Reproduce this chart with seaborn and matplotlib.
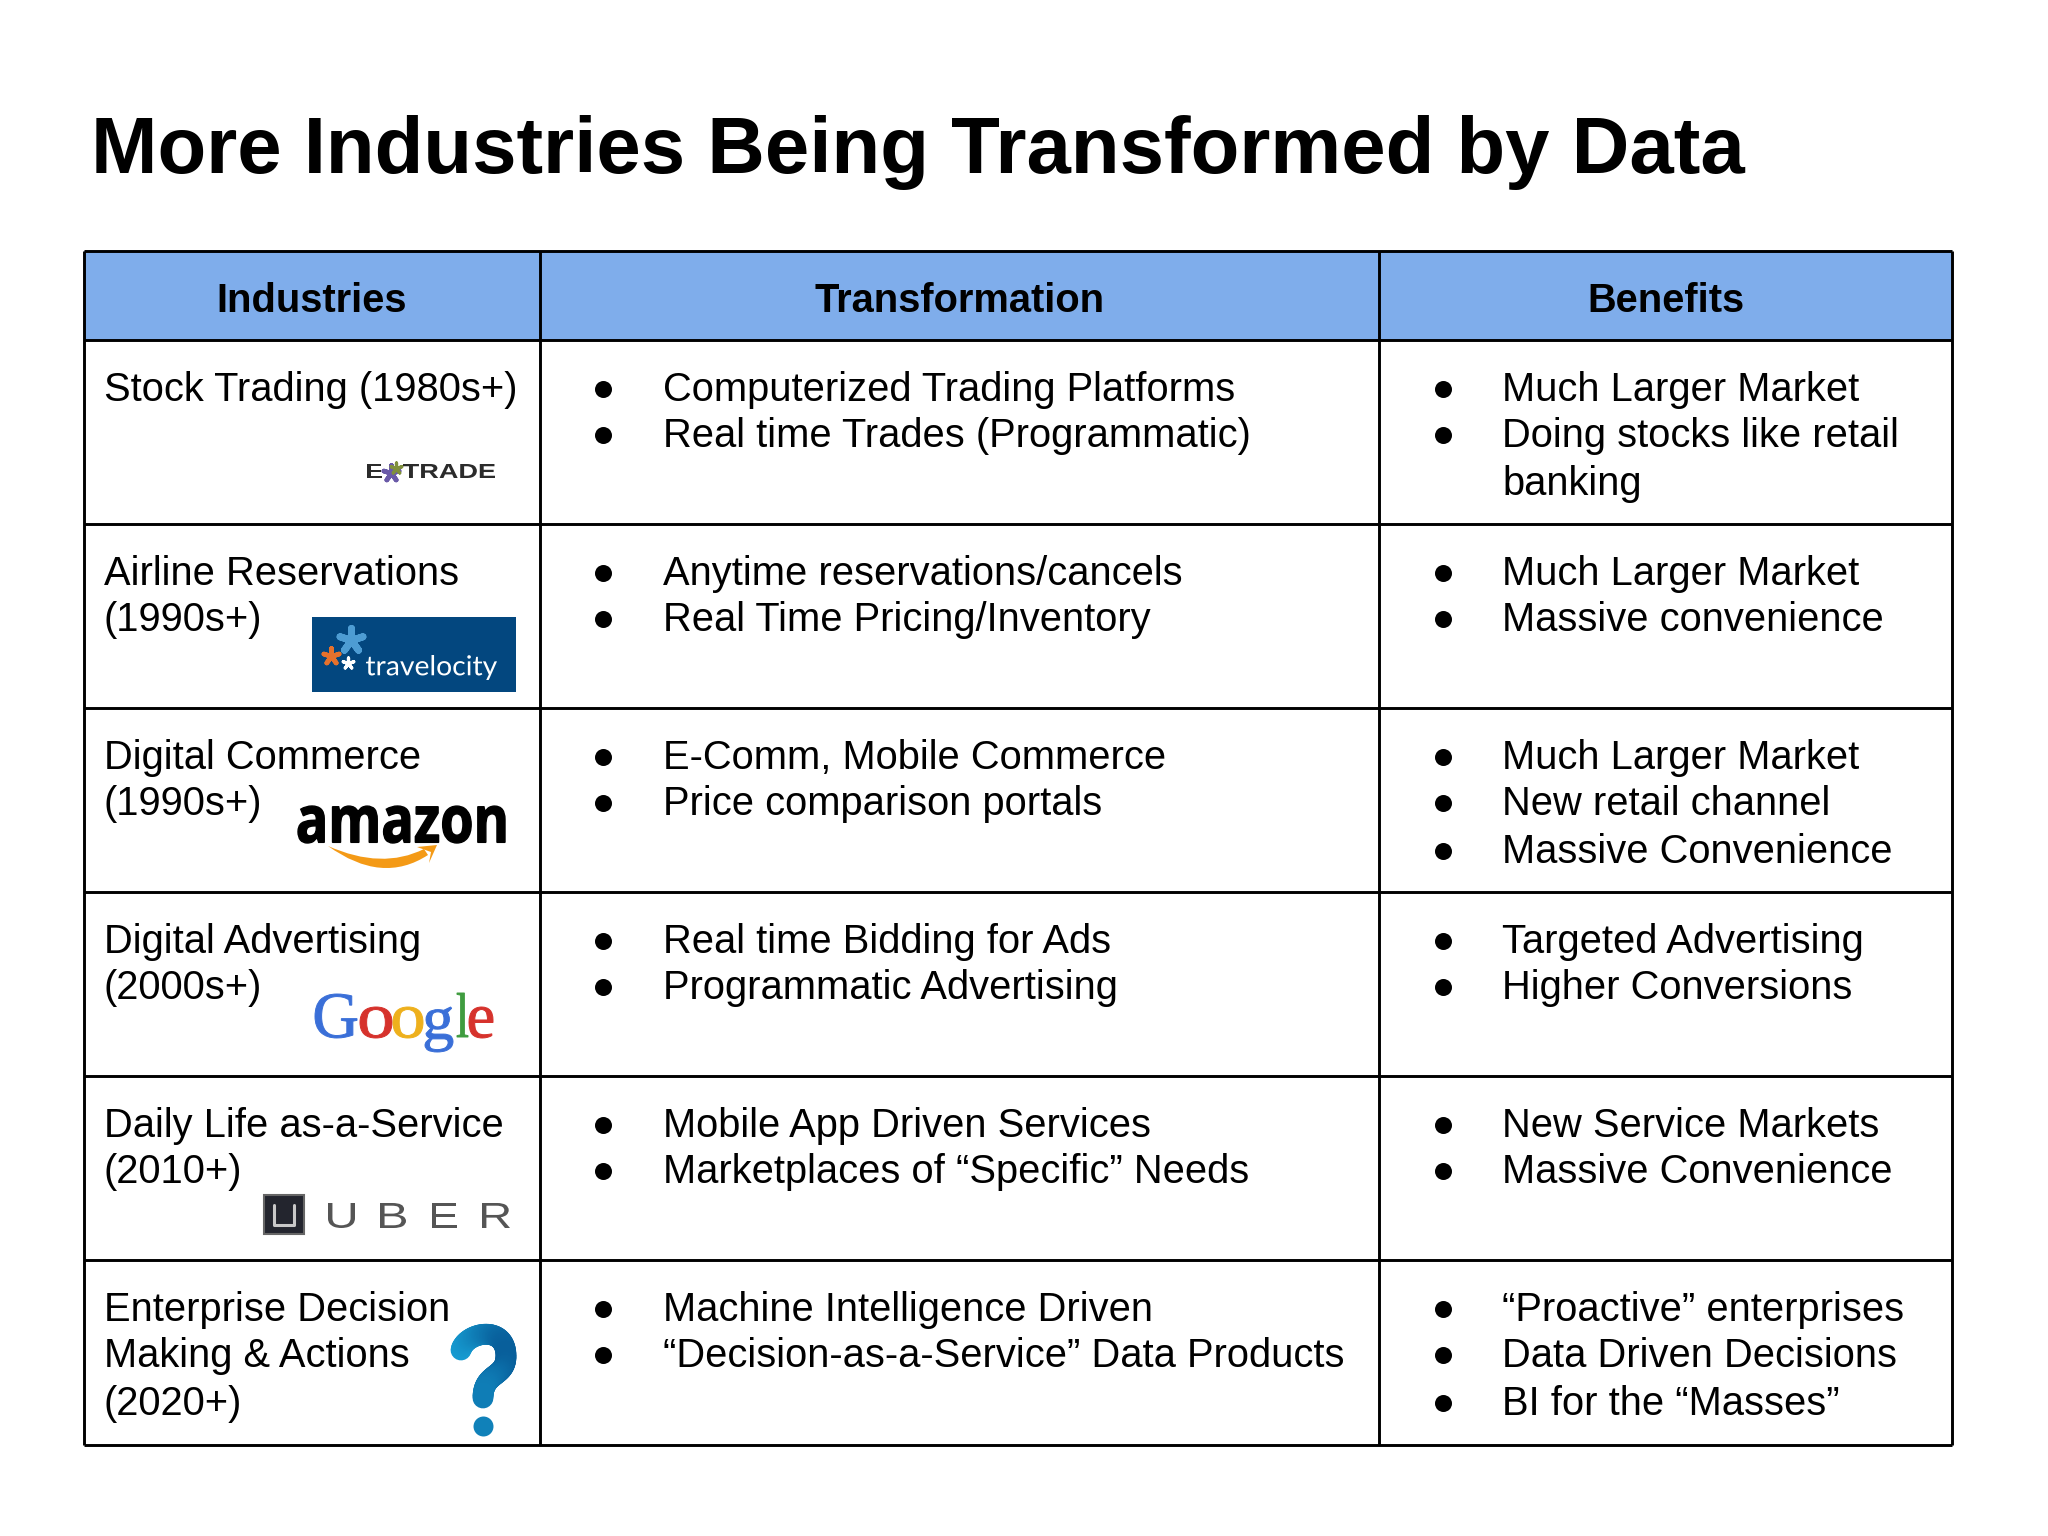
import numpy as np
import matplotlib
matplotlib.use('Agg')
import matplotlib.pyplot as plt
import seaborn as sns
from matplotlib.collections import LineCollection
from matplotlib.font_manager import FontProperties
from matplotlib.patches import PathPatch, Rectangle
from matplotlib.path import Path
from matplotlib.textpath import TextPath
from matplotlib.transforms import Affine2D

TITLE = 'More Industries Being Transformed by Data'
HEADERS = ['Industries', 'Transformation', 'Benefits']

INDUSTRIES = [
    ['Stock Trading (1980s+)'],
    ['Airline Reservations', '(1990s+)'],
    ['Digital Commerce', '(1990s+)'],
    ['Digital Advertising', '(2000s+)'],
    ['Daily Life as-a-Service', '(2010+)'],
    ['Enterprise Decision', 'Making & Actions', '(2020+)'],
]
TRANSFORMATIONS = [
    ['Computerized Trading Platforms', 'Real time Trades (Programmatic)'],
    ['Anytime reservations/cancels', 'Real Time Pricing/Inventory'],
    ['E-Comm, Mobile Commerce', 'Price comparison portals'],
    ['Real time Bidding for Ads', 'Programmatic Advertising'],
    ['Mobile App Driven Services', 'Marketplaces of \u201cSpecific\u201d Needs'],
    ['Machine Intelligence Driven', '\u201cDecision-as-a-Service\u201d Data Products'],
]
# a tuple marks a wrapped line, it gets no bullet
BENEFITS = [
    ['Much Larger Market', 'Doing stocks like retail', (None, 'banking')],
    ['Much Larger Market', 'Massive convenience'],
    ['Much Larger Market', 'New retail channel', 'Massive Convenience'],
    ['Targeted Advertising', 'Higher Conversions'],
    ['New Service Markets', 'Massive Convenience'],
    ['\u201cProactive\u201d enterprises', 'Data Driven Decisions', 'BI for the \u201cMasses\u201d'],
]

# table geometry in image pixels
ROW_EDGES = [251, 340, 524, 708, 892, 1076, 1260, 1445]
COL_EDGES = [83.5, 540, 1379, 1952]
LINE_OFFSETS = [0, 46, 94]
BODY_SIZE = 28.7
HEADER_BLUE = '#7fadeb'

sns.set_theme(style='white')
plt.rcParams['font.family'] = ['Liberation Sans', 'DejaVu Sans']

fig = plt.figure(figsize=(20.48, 15.36), dpi=100, facecolor='white')
ax = fig.add_axes([0, 0, 1, 1])
ax.set_xlim(0, 2048)
ax.set_ylim(1536, 0)
ax.axis('off')


def fit_text(s, box, color, family='Liberation Sans', weight='normal', z=5, lw=0):
    # squeeze a text outline into a pixel box (x0, y0, x1, y1)
    tp = TextPath((0, 0), s, size=100, prop=FontProperties(family=family, weight=weight))
    bb = tp.get_extents()
    x0, y0, x1, y1 = box
    tr = (Affine2D().translate(-bb.x0, -bb.y0)
          .scale((x1 - x0) / bb.width, -(y1 - y0) / bb.height)
          .translate(x0, y1))
    patch = PathPatch(tp, facecolor=color, edgecolor=color if lw else 'none', lw=lw, zorder=z,
                      transform=tr + ax.transData)
    ax.add_patch(patch)
    return patch


def star(x, y, r, color, arms=5):
    ax.scatter([x], [y], s=(2 * r) ** 2 * 0.52, marker=(arms, 2, 0), color=color,
               linewidths=r * 0.42, zorder=6)


def bezier(p0, p1, p2, p3, n=40):
    t = np.linspace(0, 1, n)[:, None]
    p0, p1, p2, p3 = map(np.array, (p0, p1, p2, p3))
    return (1 - t) ** 3 * p0 + 3 * (1 - t) ** 2 * t * p1 + 3 * (1 - t) * t ** 2 * p2 + t ** 3 * p3


# header band and grid
ax.add_patch(Rectangle((COL_EDGES[0], ROW_EDGES[0]), COL_EDGES[-1] - COL_EDGES[0],
                       ROW_EDGES[1] - ROW_EDGES[0], facecolor=HEADER_BLUE, edgecolor='none'))
ax.hlines(ROW_EDGES, COL_EDGES[0], COL_EDGES[-1], color='black', lw=2.1, zorder=4)
ax.vlines(COL_EDGES, ROW_EDGES[0], ROW_EDGES[-1], color='black', lw=2.1, zorder=4)

# title
ax.text(91, 173, TITLE, fontsize=57.4, fontweight='bold', color='black', va='baseline')

# header labels
for i, head in enumerate(HEADERS):
    ax.text((COL_EDGES[i] + COL_EDGES[i + 1]) / 2, 312, head, fontsize=BODY_SIZE,
            fontweight='bold', ha='center', va='baseline', color='black')

# body rows
for r in range(6):
    base = ROW_EDGES[r + 1] + 61
    for k, line in enumerate(INDUSTRIES[r]):
        ax.text(104, base + LINE_OFFSETS[k], line, fontsize=BODY_SIZE, va='baseline', color='black')
    for col, bx, tx in [(TRANSFORMATIONS, 603, 663), (BENEFITS, 1443, 1502)]:
        for k, item in enumerate(col[r]):
            bullet = True
            if isinstance(item, tuple):
                bullet, item = False, item[1]
            y = base + LINE_OFFSETS[k]
            if bullet:
                ax.scatter([bx], [y - 12], s=150, color='black', linewidths=0, zorder=5)
            ax.text(tx, y, item, fontsize=BODY_SIZE, va='baseline', color='black')

# E*TRADE logo
fit_text('E', (367, 464, 382, 478), '#2b2b2b', weight='bold')
fit_text('TRADE', (403, 464, 495, 478), '#2b2b2b', weight='bold')
star(391, 473, 8, '#6a5aa8', arms=5)
star(396, 468, 5.5, '#7f8f3c', arms=5)

# travelocity logo
ax.add_patch(Rectangle((312, 617), 204, 75, facecolor='#03477f', edgecolor='none', zorder=5))
fit_text('travelocity', (366, 655, 497, 680), 'white', family='Lato')
star(351, 640, 12, '#4d9cd3', arms=5)
star(331, 656, 8, '#e5712c', arms=5)
star(348, 663, 5.5, 'white', arms=5)

# amazon logo
fit_text('amazon', (298, 806, 505, 843), 'black', family='Open Sans', weight='bold', lw=1)
swoosh = Path([(328, 846), (382, 885), (428, 855), (424, 849), (382, 870), (328, 846)],
              [Path.MOVETO, Path.CURVE3, Path.CURVE3, Path.LINETO, Path.CURVE3, Path.CURVE3])
ax.add_patch(PathPatch(swoosh, facecolor='#f49a16', edgecolor='none', zorder=5))
tip = Path([(417, 847), (437, 845), (429, 863), (431, 852), (417, 847)],
           [Path.MOVETO, Path.LINETO, Path.LINETO, Path.LINETO, Path.CLOSEPOLY])
ax.add_patch(PathPatch(tip, facecolor='#f49a16', edgecolor='none', zorder=5))

# Google logo
g_letters = ['G', 'o', 'o', 'g', 'l', 'e']
g_colors = ['#3a6fd8', '#d6322c', '#eeb01c', '#3a6fd8', '#3f9c3f', '#d6322c']
g_left = [315, 360, 393, 425, 457, 469]
g_right = [357, 392, 423, 453, 468, 493]
g_top = [994, 1007, 1007, 1007, 993, 1007]
g_bot = [1038, 1038, 1038, 1052, 1037, 1038]
for ch, c, l, rr, t, b in zip(g_letters, g_colors, g_left, g_right, g_top, g_bot):
    fit_text(ch, (l, t, rr, b), c, family='Liberation Serif', lw=0.7)

# Uber logo
ax.add_patch(Rectangle((264, 1195), 40, 39, facecolor='#23252e', edgecolor='#666666', lw=1.5, zorder=5))
ax.plot([274, 274, 294, 294], [1205, 1225, 1225, 1205], color='#c8c8c8', lw=2.2, zorder=6,
        solid_joinstyle='round')
for ch, l, rr in zip('UBER', [328, 380, 432, 482], [355, 406, 457, 510]):
    fit_text(ch, (l, 1203, rr, 1228), '#555555')

# question mark, stroked piece by piece so it can carry a blue gradient
cmap = matplotlib.colors.LinearSegmentedColormap.from_list('q', ['#19a7dc', '#05528f'])
hook = np.vstack([bezier((461, 1350), (466, 1332), (506, 1324), (506, 1356)),
                  bezier((506, 1356), (506, 1378), (483, 1372), (483, 1398))])
segs = np.stack([hook[:-1], hook[1:]], axis=1)
shade = (segs[:, 0, 0] - 451) / 65
ax.add_collection(LineCollection(segs, colors=cmap(shade), linewidths=15, capstyle='round', zorder=5))
ax.scatter([483], [1426], s=207, color=cmap(0.45), linewidths=0, zorder=5)

fig.savefig('out.png', dpi=100, facecolor='white')
